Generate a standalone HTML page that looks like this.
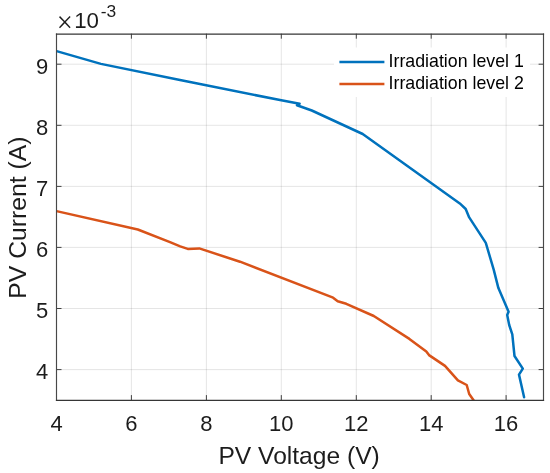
<!DOCTYPE html>
<html><head><meta charset="utf-8"><title>PV curves</title>
<style>html,body{margin:0;padding:0;background:#fff}svg{display:block}text{font-family:"Liberation Sans",Arial,Helvetica,sans-serif;fill:#1c1c1c}</style></head><body>
<svg width="550" height="473" viewBox="0 0 550 473">
<rect width="550" height="473" fill="#fff"/>
<path d="M131.4,33.7 V400.1 M206.4,33.7 V400.1 M281.3,33.7 V400.1 M356.3,33.7 V400.1 M431.2,33.7 V400.1 M506.1,33.7 V400.1" stroke="#262626" stroke-opacity="0.12" stroke-width="1" fill="none"/>
<path d="M56.5,369.6 H543.6 M56.5,308.5 H543.6 M56.5,247.4 H543.6 M56.5,186.4 H543.6 M56.5,125.3 H543.6 M56.5,64.2 H543.6" stroke="#262626" stroke-opacity="0.12" stroke-width="1" fill="none"/>
<clipPath id="c"><rect x="56.5" y="33.7" width="487.1" height="366.40000000000003"/></clipPath>
<g clip-path="url(#c)" fill="none" stroke-width="2.5" stroke-linejoin="round" stroke-linecap="round">
<path d="M56.6,51.1 L100.9,63.9 L180.0,80.0 L190.0,82.0 L280.0,100.1 L299.6,103.7 L297.0,105.3 L311.8,110.5 L362.7,134.0 L459.8,203.4 L465.7,209.0 L469.2,217.4 L485.8,242.9 L493.7,269.6 L498.4,288.1 L508.6,311.7 L507.2,315.1 L509.2,325.0 L512.3,334.3 L514.5,356.0 L522.8,368.6 L519.0,374.6 L524.1,397.2" stroke="#0072bd"/>
<path d="M56.5,211.1 L137.8,229.5 L170.0,242.1 L180.2,246.4 L187.8,248.9 L199.3,248.4 L240.0,261.7 L333.1,297.7 L337.7,301.2 L346.3,303.8 L373.8,316.0 L409.4,338.9 L426.3,351.6 L429.0,355.1 L445.0,365.9 L457.9,380.4 L466.7,385.0 L469.2,394.0 L473.6,400.3" stroke="#d95319"/>
</g>
<rect x="334" y="47.5" width="196" height="49.5" fill="#fff"/>
<path d="M339.4,62 H384.4" stroke="#0072bd" stroke-width="2.5"/>
<path d="M339.4,84 H384.4" stroke="#d95319" stroke-width="2.5"/>
<text x="388.6" y="67.4" font-size="17.75" fill="#000" style="fill:#000">Irradiation level 1</text>
<text x="388.6" y="89.4" font-size="17.75" fill="#000" style="fill:#000">Irradiation level 2</text>
<path d="M131.4,400.1 v-5 M131.4,33.7 v5 M206.4,400.1 v-5 M206.4,33.7 v5 M281.3,400.1 v-5 M281.3,33.7 v5 M356.3,400.1 v-5 M356.3,33.7 v5 M431.2,400.1 v-5 M431.2,33.7 v5 M506.1,400.1 v-5 M506.1,33.7 v5 M56.5,369.6 h5 M543.6,369.6 h-5 M56.5,308.5 h5 M543.6,308.5 h-5 M56.5,247.4 h5 M543.6,247.4 h-5 M56.5,186.4 h5 M543.6,186.4 h-5 M56.5,125.3 h5 M543.6,125.3 h-5 M56.5,64.2 h5 M543.6,64.2 h-5" stroke="#404040" stroke-width="1" fill="none"/>
<path d="M56.5,33.6 V400.9 M543.5,33.6 V400.9" fill="none" stroke="#484848" stroke-width="1.15"/>
<path d="M55.9,34.2 H544.1 M55.9,400.3 H544.1" fill="none" stroke="#363636" stroke-width="1.3"/>
<text transform="translate(56.5,431.2) scale(1,1.02)" font-size="22" text-anchor="middle">4</text>
<text transform="translate(131.4,431.2) scale(1,1.02)" font-size="22" text-anchor="middle">6</text>
<text transform="translate(206.4,431.2) scale(1,1.02)" font-size="22" text-anchor="middle">8</text>
<text transform="translate(281.3,431.2) scale(1,1.02)" font-size="22" text-anchor="middle">10</text>
<text transform="translate(356.3,431.2) scale(1,1.02)" font-size="22" text-anchor="middle">12</text>
<text transform="translate(431.2,431.2) scale(1,1.02)" font-size="22" text-anchor="middle">14</text>
<text transform="translate(506.1,431.2) scale(1,1.02)" font-size="22" text-anchor="middle">16</text>
<text transform="translate(48.2,379.0) scale(1,1.04)" font-size="22" text-anchor="end">4</text>
<text transform="translate(48.2,317.9) scale(1,1.04)" font-size="22" text-anchor="end">5</text>
<text transform="translate(48.2,256.8) scale(1,1.04)" font-size="22" text-anchor="end">6</text>
<text transform="translate(48.2,195.8) scale(1,1.04)" font-size="22" text-anchor="end">7</text>
<text transform="translate(48.2,134.7) scale(1,1.04)" font-size="22" text-anchor="end">8</text>
<text transform="translate(48.2,73.6) scale(1,1.04)" font-size="22" text-anchor="end">9</text>
<text x="56.7" y="31.7" font-size="28.5" style="font-family:'Liberation Serif',serif">×</text>
<text x="74.2" y="27.6" font-size="22.3">10</text>
<text x="100.8" y="17.2" font-size="17.4">-3</text>
<text transform="translate(299.1,464.3)" font-size="24.6" text-anchor="middle">PV Voltage (V)</text>
<text transform="translate(25.8,217.6) rotate(-90)" font-size="24.75" text-anchor="middle">PV Current (A)</text>
</svg></body></html>
